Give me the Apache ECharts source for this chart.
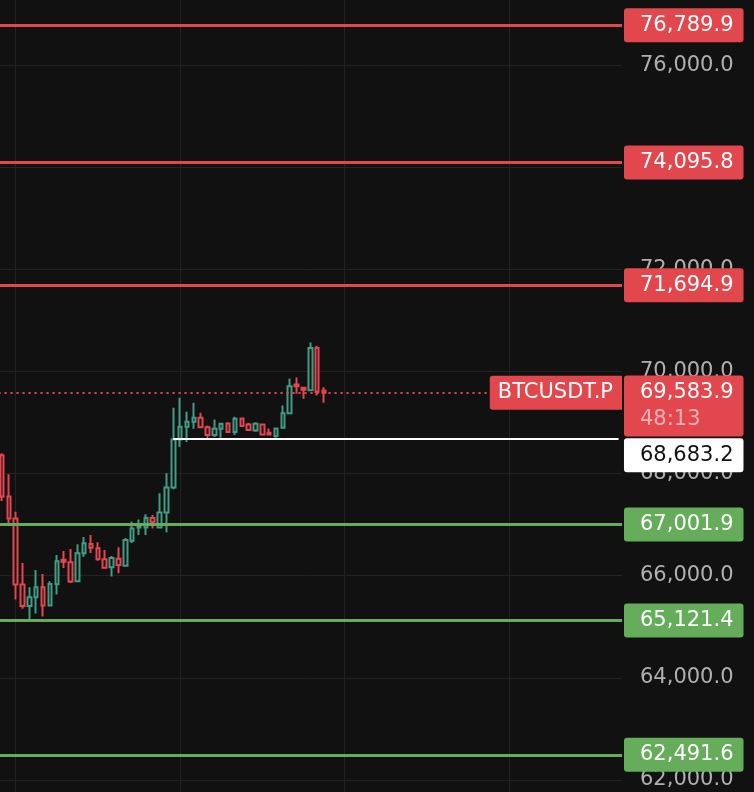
<!DOCTYPE html>
<html><head><meta charset="utf-8">
<script src="https://cdn.jsdelivr.net/npm/echarts@6/dist/echarts.min.js"></script>
<style>html,body{margin:0;padding:0;background:#111111;overflow:hidden}#c{width:754px;height:792px}</style>
</head><body><div id="c"></div>
<script>
// ---- data ----
const symbolName = 'BTCUSDT.P';
const countdown = '48:13';
const lastPrice = 69583.9;
const markPrice = 68683.2;
const markStartIndex = 25;
const resistanceLevels = [76789.9, 74095.8, 71694.9];
const supportLevels = [67001.9, 65121.4, 62491.6];
const slotCount = 91;
const categories = Array.from({length: slotCount}, (_, i) => String(i));
const opens  = [68359,67553,67123,65826,65405,65580,65776,65416,65834,66315,66264,65893,66440,66621,66537,66323,66166,66334,66198,66686,66947,66947,67129,66947,67240,67729,68672,68920,69018,69096,68912,68756,68881,68984,68815,69082,68965,68848,68965,68803,68736,68900,69186,69746,69682,69635,70463,69629];
const closes = [67553,67123,65826,65405,65580,65776,65416,65840,66283,66276,65885,66440,66635,66549,66323,66158,66348,66211,66699,66928,66979,67129,67057,67240,67729,68672,68920,69018,69096,68912,68756,68881,68979,68815,69076,68932,68854,68979,68770,68770,68887,69186,69713,69713,69643,70463,69604,69583.9];
const lows   = [67467,66973,65533,65352,65104,65260,65202,65416,65631,66153,65860,65893,66373,66446,66295,66158,65983,66049,66198,66641,66797,66797,66928,66928,66850,67695,68529,68619,68881,68912,68658,68717,68705,68815,68756,68920,68834,68822,68770,68750,68705,68881,69186,69564,69467,69635,69531,69389];
const highs  = [68399,67988,67252,66250,65776,66114,66035,65893,66406,66485,66524,66615,66758,66797,66655,66504,66387,66557,66738,67065,67104,67207,67188,67617,68008,69291,69486,69213,69389,69193,68945,69063,68979,69010,69115,69096,68998,69010,68979,68887,68887,69336,69863,69883,69682,70572,70508,69693];
const yTicksMin = 60000, yTicksMax = 78000, yTickStep = 2000;

// ---- styling ----
const FONT = 'DejaVu Sans';
const RED = '#e3474e', GREEN = '#66ad5b', TEAL = '#429c86', CRED = '#e5464f';
const fmt = v => Number(v).toLocaleString('en-US', {minimumFractionDigits: 1, maximumFractionDigits: 1});

const candleData = opens.map((o, i) => [o, closes[i], lows[i], highs[i]]);

function boxLabel(text, bg, fg, extra) {
  return Object.assign({
    show: true, position: 'end', distance: 2,
    formatter: () => text,
    color: fg, backgroundColor: bg, borderRadius: 3,
    padding: [5, 10, 5, 16], fontFamily: FONT, fontSize: 21, lineHeight: 24
  }, extra || {});
}
function level(v, color) {
  return { yAxis: v, lineStyle: {color: color, width: 3, type: 'solid'}, label: boxLabel(fmt(v), color, '#ffffff') };
}

const markData = [];
resistanceLevels.forEach(v => markData.push(level(v, RED)));
supportLevels.forEach(v => markData.push(level(v, GREEN)));
markData.push([
  { coord: [markStartIndex, markPrice], lineStyle: {color: '#ffffff', width: 2, type: 'solid'},
    label: boxLabel(fmt(markPrice), '#ffffff', '#111111', {distance: 5.4, offset: [0, 16.5]}) },
  { coord: [slotCount - 1, markPrice] }
]);
markData.push({
  yAxis: lastPrice, lineStyle: {color: RED, width: 1.5, type: [2, 4]},
  label: {
    show: true, position: 'end', distance: 2, offset: [0, 13.2],
    formatter: () => '{p|' + fmt(lastPrice) + '}\n{t|' + countdown + '}',
    backgroundColor: RED, borderRadius: 3, padding: [3.5, 10, 3.5, 16],
    rich: {
      p: {color: '#ffffff', fontFamily: FONT, fontSize: 21, lineHeight: 27},
      t: {color: '#f5b2b5', fontFamily: FONT, fontSize: 21, lineHeight: 27}
    }
  }
});
markData.push({
  yAxis: lastPrice, lineStyle: {color: RED, width: 1.5, type: [2, 4]},
  label: boxLabel(symbolName, RED, '#ffffff', {position: 'insideEnd', distance: 0, padding: [5, 9, 5, 8], borderRadius: [3, 0, 0, 3]})
});

const chart = echarts.init(document.getElementById('c'), null, {renderer: 'canvas'});
chart.setOption({
  backgroundColor: '#111111',
  animation: false,
  grid: {left: -1.45, right: 132, top: -36.6, bottom: -89.9, containLabel: false, outerBoundsMode: 'none'},
  xAxis: {
    type: 'category', data: categories, boundaryGap: true,
    axisLine: {show: false}, axisTick: {show: false}, axisLabel: {show: false},
    splitLine: {show: true, alignWithLabel: true, interval: (i) => i % 24 === 2, lineStyle: {color: '#232323', width: 1}}
  },
  yAxis: {
    type: 'value', position: 'right', min: yTicksMin, max: yTicksMax, interval: yTickStep, scale: true,
    axisLine: {show: false}, axisTick: {show: false},
    axisLabel: {show: true, margin: 18, color: '#b0b0b0', fontFamily: FONT, fontSize: 21, formatter: v => fmt(v)},
    splitLine: {show: true, lineStyle: {color: '#232323', width: 1}}
  },
  series: [{
    type: 'candlestick', data: candleData, barWidth: 4,
    itemStyle: {color: '#111111', color0: '#111111', borderColor: TEAL, borderColor0: CRED, borderWidth: 2},
    markLine: {symbol: ['none', 'none'], silent: true, animation: false, data: markData}
  }]
});
</script></body></html>
